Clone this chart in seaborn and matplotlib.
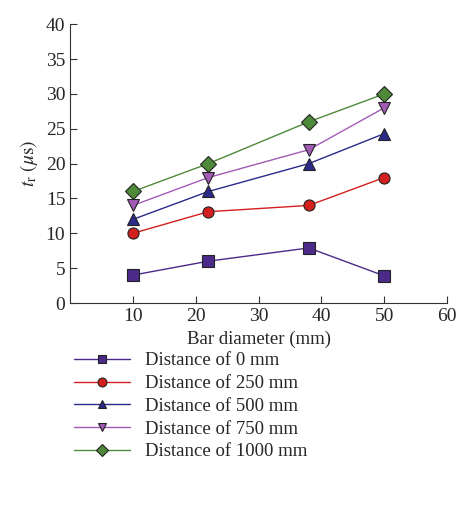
import matplotlib
matplotlib.use('Agg')
import matplotlib.pyplot as plt
import seaborn as sns
import pandas as pd

diameters = [10, 22, 38, 50]
d0 = [4, 6, 7.9, 3.9]
d250 = [10, 13.1, 14, 18]
d500 = [12, 16, 20, 24.3]
d750 = [14, 18, 22, 28]
d1000 = [16, 20, 26, 30]
labels = ['Distance of 0 mm', 'Distance of 250 mm', 'Distance of 500 mm',
          'Distance of 750 mm', 'Distance of 1000 mm']

sns.set_style('ticks')
plt.rcParams['font.family'] = ['Liberation Serif', 'DejaVu Serif']
plt.rcParams['mathtext.fontset'] = 'stix'

rows = []
for lab, vals in zip(labels, [d0, d250, d500, d750, d1000]):
    for x, y in zip(diameters, vals):
        rows.append({'d': x, 't': y, 'series': lab})
df = pd.DataFrame(rows)

colors = ['#4b2a8a', '#d41f1f', '#2b2a8a', '#a35bb5', '#4f8a3a']
markers = ['s', 'o', '^', 'v', 'D']

fig = plt.figure(figsize=(4.74, 5.05), dpi=100)
ax = fig.add_axes([0.148, 0.40, 0.795, 0.552])
for lab, c, m in zip(labels, colors, markers):
    sub = df[df.series == lab]
    sns.lineplot(data=sub, x='d', y='t', ax=ax, color=c, marker=m, markersize=8,
                 markeredgecolor='#222222', markeredgewidth=0.8, linewidth=1.0, label=lab)

ax.set_xlim(0, 60)
ax.set_ylim(0, 40)
ax.set_xticks([10, 20, 30, 40, 50, 60])
ax.set_yticks(range(0, 41, 5))
ax.tick_params(direction='in', labelsize=14, length=5, color='#333333')
ax.set_xlabel('Bar diameter (mm)', fontsize=13.5)
ax.set_ylabel(r'$t_{\mathrm{r}}\ (\mu\mathrm{s})$', fontsize=14)
sns.despine(ax=ax)
ax.spines['left'].set_color('#333333')
ax.spines['bottom'].set_color('#333333')
ax.legend(loc='upper left', bbox_to_anchor=(-0.01, -0.15), frameon=False, fontsize=13.5,
          handlelength=3.0, labelspacing=0.3, borderaxespad=0, markerscale=0.8)

fig.savefig('out.png', dpi=100)
